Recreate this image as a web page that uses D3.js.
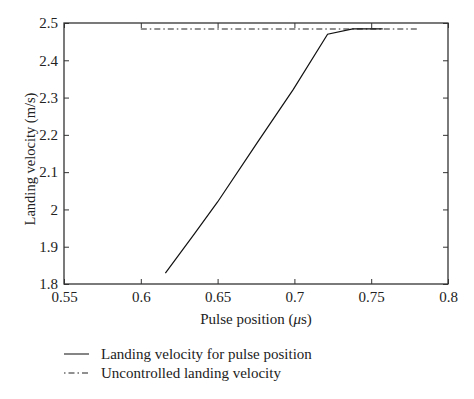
<!DOCTYPE html>
<html>
<head>
<meta charset="utf-8">
<script src="https://cdn.jsdelivr.net/npm/d3@7"></script>
<style>
  body { margin: 0; background: #fff; }
  svg { display: block; font-family: "Liberation Serif", "DejaVu Serif", serif; }
  .axis path { display: none; }
  .axis line { stroke: #333; stroke-width: 1; }
  .axis text { fill: #222; font-size: 15px; font-family: "Liberation Serif", serif; }
</style>
</head>
<body>
<svg id="chart" width="474" height="399"></svg>
<script>
// pulse position (us) vs landing velocity (m/s)
const pulse_pos = [0.616, 0.635, 0.65, 0.6755, 0.6993, 0.7216, 0.738, 0.7575];
const landing_vel = [1.829, 1.935, 2.02, 2.177, 2.322, 2.470, 2.484, 2.484];
// uncontrolled landing velocity (flat reference)
const uncontrolled_x = [0.6, 0.7805];
const uncontrolled_v = [2.484, 2.484];

const xTicks = [0.55, 0.6, 0.65, 0.7, 0.75, 0.8];
const xTickLabels = ['0.55', '0.6', '0.65', '0.7', '0.75', '0.8'];
const yTicks = [1.8, 1.9, 2.0, 2.1, 2.2, 2.3, 2.4, 2.5];
const yTickLabels = ['1.8', '1.9', '2', '2.1', '2.2', '2.3', '2.4', '2.5'];

const legend_names = ['Landing velocity for pulse position', 'Uncontrolled landing velocity'];

const m_left = 64, m_right = 448, m_top = 23, m_bottom = 284;
const svg = d3.select('#chart');

const x = d3.scaleLinear().domain([0.55, 0.8]).range([m_left, m_right]);
const y = d3.scaleLinear().domain([1.8, 2.5]).range([m_bottom, m_top]);

// axes, ticks inward on all four sides
svg.append('g').attr('class', 'axis').attr('transform', 'translate(0,' + m_bottom + ')')
  .call(d3.axisBottom(x).tickValues(xTicks).tickSizeInner(-5).tickSizeOuter(0).tickPadding(7)
    .tickFormat(function(d, i) { return xTickLabels[i]; }));
svg.append('g').attr('class', 'axis').attr('transform', 'translate(0,' + m_top + ')')
  .call(d3.axisTop(x).tickValues(xTicks).tickSizeInner(-5).tickSizeOuter(0).tickFormat(''));
svg.append('g').attr('class', 'axis').attr('transform', 'translate(' + m_left + ',0)')
  .call(d3.axisLeft(y).tickValues(yTicks).tickSizeInner(-5).tickSizeOuter(0).tickPadding(6)
    .tickFormat(function(d, i) { return yTickLabels[i]; }));
svg.append('g').attr('class', 'axis').attr('transform', 'translate(' + m_right + ',0)')
  .call(d3.axisRight(y).tickValues(yTicks).tickSizeInner(-5).tickSizeOuter(0).tickFormat(''));

// frame
svg.append('rect').attr('x', m_left).attr('y', m_top).attr('width', m_right - m_left).attr('height', m_bottom - m_top)
  .attr('fill', 'none').attr('stroke', '#333').attr('stroke-width', 1.3);

const line = d3.line().x(function(d) { return x(d[0]); }).y(function(d) { return y(d[1]); });

svg.append('path').datum(d3.zip(uncontrolled_x, uncontrolled_v))
  .attr('d', line).attr('fill', 'none').attr('stroke', '#222').attr('stroke-width', 1.1)
  .attr('stroke-dasharray', '6,3,1.5,3');

svg.append('path').datum(d3.zip(pulse_pos, landing_vel))
  .attr('d', line).attr('fill', 'none').attr('stroke', '#111').attr('stroke-width', 1.2);

// axis titles
svg.append('text').attr('x', (m_left + m_right) / 2).attr('y', 324).attr('text-anchor', 'middle')
  .attr('font-size', 15).attr('fill', '#222')
  .html('Pulse position (<tspan font-style="italic">μ</tspan>s)');
svg.append('text').attr('transform', 'translate(35,159) rotate(-90)').attr('text-anchor', 'middle')
  .attr('font-size', 14.5).attr('fill', '#222').text('Landing velocity (m/s)');

// legend
const leg = svg.append('g').selectAll('g').data(legend_names).enter().append('g')
  .attr('transform', function(d, i) { return 'translate(64,' + (354 + i * 19) + ')'; });
leg.append('line').attr('x1', 0).attr('x2', 25).attr('y1', 0).attr('y2', 0)
  .attr('stroke', '#222').attr('stroke-width', 1.1)
  .attr('stroke-dasharray', function(d, i) { return i === 1 ? '1.5,3,6,3' : null; });
leg.append('text').attr('x', 37).attr('y', 5).attr('font-size', 15).attr('fill', '#222')
  .text(function(d) { return d; });
</script>
</body>
</html>
